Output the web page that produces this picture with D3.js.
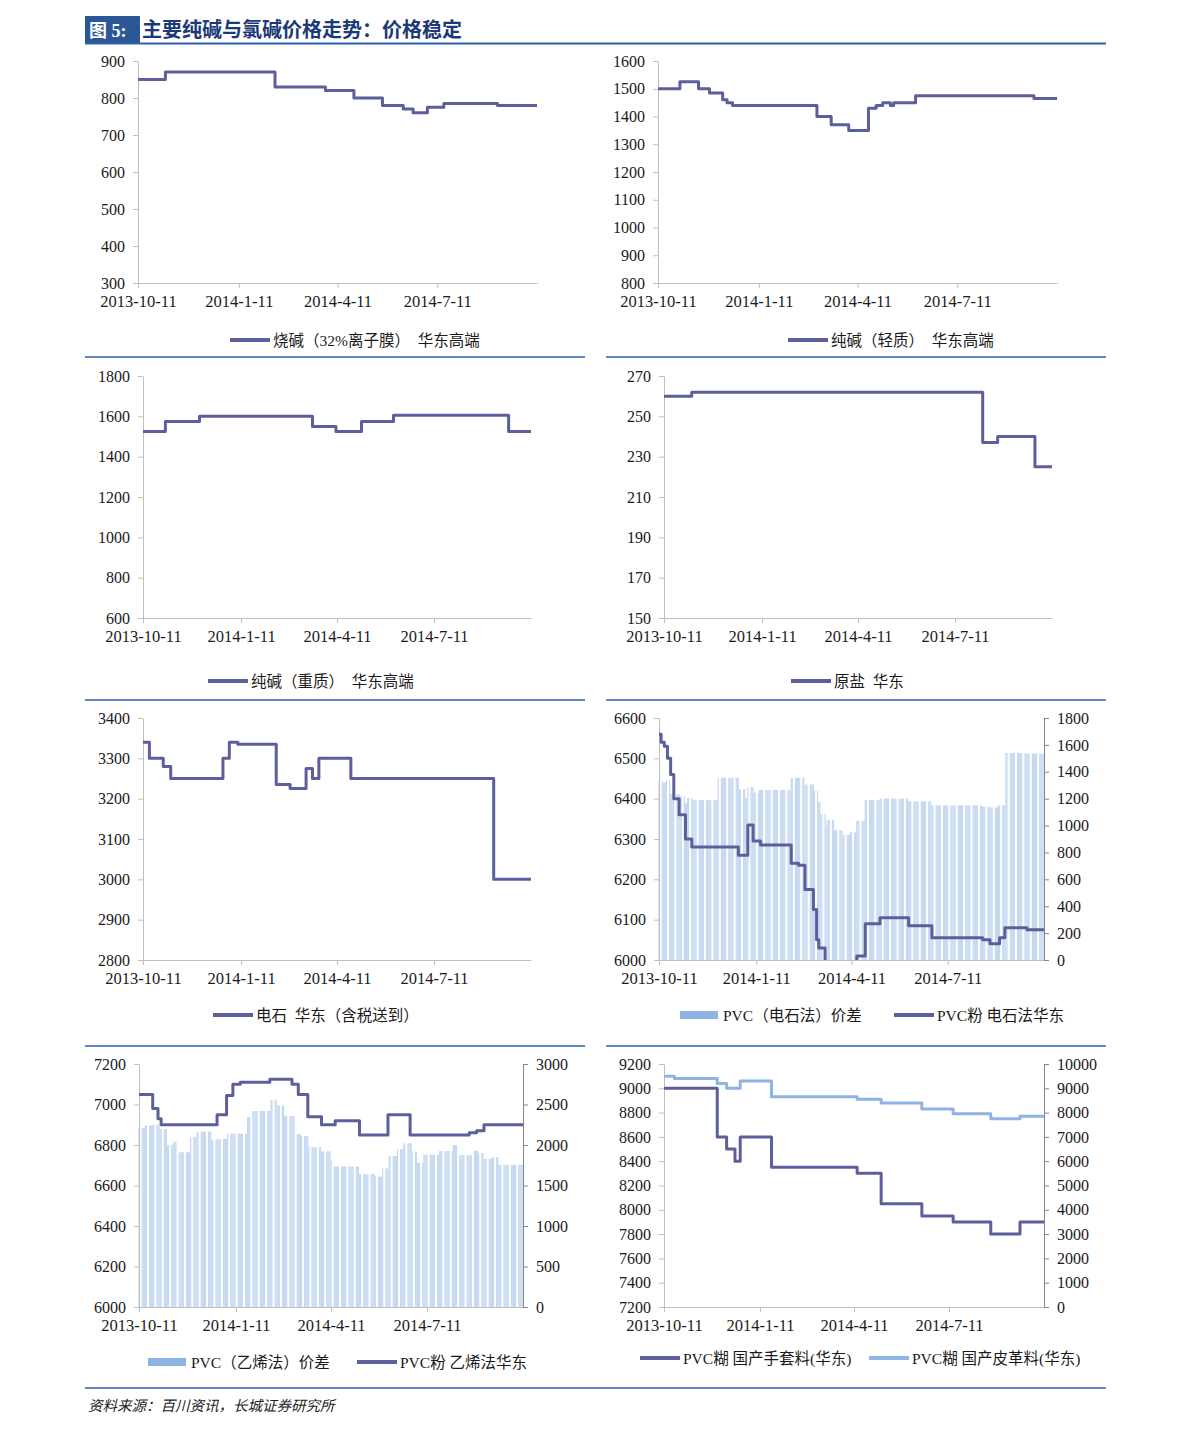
<!DOCTYPE html>
<html>
<head>
<meta charset="utf-8">
<script src="https://cdn.jsdelivr.net/npm/d3@7"></script>
<style>
	body { margin: 0; background: #fff; }
	text { font-family: "Liberation Serif", "Noto Sans CJK SC", serif; }
	.legend text { white-space: pre; }
</style>
</head>
<body>
<svg id="chart" width="1191" height="1434"></svg>
<script>
// ---- shared x axis ----
var xStart = "2013-10-11", xEnd = "2014-10-10";
var xTickLabels = ["2013-10-11", "2014-1-11", "2014-4-11", "2014-7-11"];

// ---- 烧碱（32%离子膜） 华东高端 ----
var causticDates = ["2013-10-11", "2013-11-5", "2014-2-13", "2014-3-31", "2014-4-26", "2014-5-22", "2014-6-10", "2014-6-19", "2014-7-2", "2014-7-17", "2014-9-4", "2014-10-10"];
var causticValues = [850, 870, 830, 820, 800, 780, 770, 760, 775, 785, 780, 780];
var causticTicks = [300, 400, 500, 600, 700, 800, 900];

// ---- 纯碱（轻质） 华东高端 ----
var lightAshDates = ["2013-10-11", "2013-10-31", "2013-11-17", "2013-11-27", "2013-12-9", "2013-12-13", "2013-12-18", "2014-3-5", "2014-3-18", "2014-4-3", "2014-4-21", "2014-4-28", "2014-5-4", "2014-5-11", "2014-5-14", "2014-6-3", "2014-9-19", "2014-10-10"];
var lightAshValues = [1500, 1525, 1500, 1485, 1460, 1450, 1440, 1400, 1370, 1350, 1430, 1440, 1450, 1440, 1450, 1475, 1465, 1465];
var lightAshTicks = [800, 900, 1000, 1100, 1200, 1300, 1400, 1500, 1600];

// ---- 纯碱（重质） 华东高端 ----
var denseAshDates = ["2013-10-11", "2013-11-1", "2013-12-3", "2014-3-19", "2014-4-10", "2014-5-4", "2014-6-3", "2014-9-19", "2014-10-10"];
var denseAshValues = [1525, 1575, 1600, 1550, 1525, 1575, 1605, 1525, 1525];
var denseAshTicks = [600, 800, 1000, 1200, 1400, 1600, 1800];

// ---- 原盐 华东 ----
var saltDates = ["2013-10-11", "2013-11-6", "2014-8-6", "2014-8-20", "2014-9-24", "2014-10-10"];
var saltValues = [260, 262, 237, 240, 225, 225];
var saltTicks = [150, 170, 190, 210, 230, 250, 270];

// ---- 电石 华东（含税送到） ----
var carbideDates = ["2013-10-11", "2013-10-17", "2013-10-30", "2013-11-6", "2013-12-25", "2013-12-31", "2014-1-8", "2014-2-13", "2014-2-26", "2014-3-13", "2014-3-19", "2014-3-25", "2014-4-24", "2014-9-5", "2014-10-10"];
var carbideValues = [3340, 3300, 3280, 3250, 3300, 3340, 3335, 3235, 3225, 3275, 3250, 3300, 3250, 3000, 3000];
var carbideTicks = [2800, 2900, 3000, 3100, 3200, 3300, 3400];

// ---- PVC 电石法 ----
var pvcCarbideDates = ["2013-10-11", "2013-10-13", "2013-10-16", "2013-10-19", "2013-10-22", "2013-10-25", "2013-10-30", "2013-11-5", "2013-11-11", "2013-12-25", "2014-1-3", "2014-1-8", "2014-1-15", "2014-2-13", "2014-2-20", "2014-2-26", "2014-3-6", "2014-3-9", "2014-3-11", "2014-3-17", "2014-4-16", "2014-4-24", "2014-5-8", "2014-6-4", "2014-6-26", "2014-8-13", "2014-8-20", "2014-8-29", "2014-9-3", "2014-9-24", "2014-10-10"];
var pvcCarbideValues = [6560, 6540, 6530, 6500, 6460, 6400, 6360, 6300, 6280, 6260, 6335, 6295, 6285, 6240, 6235, 6175, 6125, 6050, 6030, 5950, 6010, 6090, 6105, 6085, 6055, 6050, 6040, 6055, 6080, 6075, 6075];
var carbideSpreadDates = ["2013-10-11", "2013-10-15", "2013-10-18", "2013-10-22", "2013-10-31", "2013-11-5", "2013-11-7", "2013-11-12", "2013-12-6", "2013-12-26", "2014-1-1", "2014-1-3", "2014-1-9", "2014-1-14", "2014-2-13", "2014-2-26", "2014-3-7", "2014-3-11", "2014-3-13", "2014-3-18", "2014-3-19", "2014-3-26", "2014-4-3", "2014-4-10", "2014-4-16", "2014-4-24", "2014-5-8", "2014-6-4", "2014-6-26", "2014-8-13", "2014-8-20", "2014-8-28", "2014-9-4", "2014-9-24"];
var carbideSpreadValues = [1330, 1320, 1340, 1235, 1220, 1165, 1205, 1190, 1355, 1270, 1205, 1285, 1245, 1265, 1355, 1305, 1260, 1175, 1085, 995, 1040, 965, 930, 950, 1035, 1190, 1200, 1180, 1150, 1140, 1135, 1150, 1540, 1535];
var pvcCarbideTicks = [6000, 6100, 6200, 6300, 6400, 6500, 6600];
var carbideSpreadTicks = [0, 200, 400, 600, 800, 1000, 1200, 1400, 1600, 1800];

// ---- PVC 乙烯法 ----
var pvcEthyleneDates = ["2013-10-11", "2013-10-24", "2013-10-29", "2013-11-1", "2013-12-24", "2014-1-2", "2014-1-8", "2014-1-15", "2014-2-12", "2014-3-5", "2014-3-11", "2014-3-20", "2014-4-2", "2014-4-15", "2014-5-8", "2014-6-4", "2014-6-25", "2014-8-20", "2014-8-27", "2014-9-3", "2014-10-10"];
var pvcEthyleneValues = [7050, 6980, 6930, 6900, 6950, 7045, 7100, 7110, 7125, 7100, 7050, 6940, 6900, 6920, 6850, 6950, 6850, 6860, 6870, 6900, 6900];
var ethyleneSpreadDates = ["2013-10-11", "2013-10-17", "2013-10-24", "2013-10-31", "2013-11-7", "2013-11-13", "2013-11-18", "2013-11-29", "2013-12-5", "2013-12-19", "2013-12-24", "2014-1-3", "2014-1-22", "2014-1-27", "2014-2-13", "2014-2-19", "2014-2-26", "2014-3-8", "2014-3-14", "2014-3-21", "2014-4-2", "2014-4-11", "2014-4-14", "2014-5-8", "2014-5-23", "2014-5-30", "2014-6-5", "2014-6-13", "2014-6-19", "2014-6-27", "2014-7-2", "2014-7-8", "2014-7-23", "2014-8-5", "2014-8-10", "2014-8-25", "2014-8-29", "2014-9-3", "2014-9-11", "2014-9-17"];
var ethyleneSpreadValues = [2210, 2240, 2250, 2195, 2000, 2040, 1910, 2100, 2165, 2065, 2075, 2140, 2345, 2420, 2560, 2490, 2360, 2135, 2110, 1975, 1920, 1815, 1735, 1640, 1610, 1710, 1865, 1950, 2020, 1920, 1780, 1880, 1925, 2000, 1875, 1930, 1900, 1830, 1850, 1755];
var pvcEthyleneTicks = [6000, 6200, 6400, 6600, 6800, 7000, 7200];
var ethyleneSpreadTicks = [0, 500, 1000, 1500, 2000, 2500, 3000];

// ---- PVC糊 ----
var pasteGloveDates = ["2013-10-11", "2013-12-1", "2013-12-10", "2013-12-18", "2013-12-23", "2014-1-22", "2014-4-14", "2014-5-7", "2014-6-15", "2014-7-15", "2014-8-20", "2014-9-17", "2014-10-10"];
var pasteGloveValues = [9000, 8600, 8500, 8400, 8600, 8350, 8300, 8050, 7950, 7900, 7800, 7900, 7900];
var pasteLeatherDates = ["2013-10-11", "2013-10-21", "2013-12-1", "2013-12-10", "2013-12-23", "2014-1-22", "2014-4-14", "2014-5-7", "2014-6-15", "2014-7-15", "2014-8-20", "2014-9-17", "2014-10-10"];
var pasteLeatherValues = [9500, 9400, 9200, 9000, 9300, 8650, 8550, 8400, 8150, 7950, 7750, 7850, 7850];
var pasteGloveTicks = [7200, 7400, 7600, 7800, 8000, 8200, 8400, 8600, 8800, 9000, 9200];
var pasteLeatherTicks = [0, 1000, 2000, 3000, 4000, 5000, 6000, 7000, 8000, 9000, 10000];

// colours
var lineColor = "#5c5f9b", lightLineColor = "#8db4e3";
var barColor = "#c6d9f1", barLegendColor = "#8eb4e3";
var ruleColor = "#2e62a8";

function parseDay(s) {
	var p = s.split("-").map(Number);
	return new Date(p[0], p[1] - 1, p[2]);
}

function series(dates, values) {
	return dates.map(function (d, i) { return { date: parseDay(d), value: values[i] }; });
}

// one bar per weekday, holding the price spread of the period it falls in
function weekdayBars(dates, values) {
	var pts = dates.map(parseDay);
	var days = d3.timeDay.range(parseDay(xStart), d3.timeDay.offset(parseDay(xEnd), 1))
		.filter(function (d) { return d.getDay() !== 0 && d.getDay() !== 6; });
	return days.map(function (day) {
		return { date: day, value: values[Math.max(0, d3.bisectRight(pts, day) - 1)] };
	});
}

var svg = d3.select("#chart");
svg.append("rect").attr("width", 1191).attr("height", 1434).attr("fill", "#fff");

var panels = [
	{ x0: 138, x1: 537, y0: 61, y1: 283, yTicks: causticTicks,
		lines: [{ data: series(causticDates, causticValues), color: lineColor }],
		legendY: 340, legend: [{ type: "line", x: 230, label: "烧碱（32%离子膜）  华东高端", color: lineColor }] },
	{ x0: 658, x1: 1057, y0: 61, y1: 283, yTicks: lightAshTicks,
		lines: [{ data: series(lightAshDates, lightAshValues), color: lineColor }],
		legendY: 340, legend: [{ type: "line", x: 788, label: "纯碱（轻质）  华东高端", color: lineColor }] },
	{ x0: 143, x1: 531, y0: 376, y1: 618, yTicks: denseAshTicks,
		lines: [{ data: series(denseAshDates, denseAshValues), color: lineColor }],
		legendY: 681, legend: [{ type: "line", x: 208, label: "纯碱（重质）  华东高端", color: lineColor }] },
	{ x0: 664, x1: 1052, y0: 376, y1: 618, yTicks: saltTicks,
		lines: [{ data: series(saltDates, saltValues), color: lineColor }],
		legendY: 681, legend: [{ type: "line", x: 791, label: "原盐  华东", color: lineColor }] },
	{ x0: 143, x1: 531, y0: 718, y1: 960, yTicks: carbideTicks,
		lines: [{ data: series(carbideDates, carbideValues), color: lineColor }],
		legendY: 1015, legend: [{ type: "line", x: 213, label: "电石  华东（含税送到）", color: lineColor }] },
	{ x0: 659, x1: 1044, y0: 718, y1: 960, yTicks: pvcCarbideTicks, y2Ticks: carbideSpreadTicks,
		bars: weekdayBars(carbideSpreadDates, carbideSpreadValues),
		lines: [{ data: series(pvcCarbideDates, pvcCarbideValues), color: lineColor }],
		legendY: 1015, legend: [
			{ type: "rect", x: 680, label: "PVC（电石法）价差", color: barLegendColor },
			{ type: "line", x: 894, label: "PVC粉 电石法华东", color: lineColor }] },
	{ x0: 139, x1: 523, y0: 1064, y1: 1307, yTicks: pvcEthyleneTicks, y2Ticks: ethyleneSpreadTicks,
		bars: weekdayBars(ethyleneSpreadDates, ethyleneSpreadValues),
		lines: [{ data: series(pvcEthyleneDates, pvcEthyleneValues), color: lineColor }],
		legendY: 1362, legend: [
			{ type: "rect", x: 148, label: "PVC（乙烯法）价差", color: barLegendColor },
			{ type: "line", x: 357, label: "PVC粉 乙烯法华东", color: lineColor }] },
	{ x0: 664, x1: 1044, y0: 1064, y1: 1307, yTicks: pasteGloveTicks, y2Ticks: pasteLeatherTicks,
		lines: [
			{ data: series(pasteGloveDates, pasteGloveValues), color: lineColor },
			{ data: series(pasteLeatherDates, pasteLeatherValues), color: lightLineColor, right: true }],
		legendY: 1358, legend: [
			{ type: "line", x: 640, label: "PVC糊 国产手套料(华东)", color: lineColor },
			{ type: "line", x: 869, label: "PVC糊 国产皮革料(华东)", color: lightLineColor }] }
];

function styleAxis(g, color, size) {
	g.select(".domain").attr("stroke", color).attr("stroke-width", 1);
	g.selectAll(".tick line").attr("stroke", color);
	g.selectAll(".tick text").attr("fill", "#1a1a1a").style("font-size", size)
		.style("font-family", "'Liberation Serif', serif");
}

panels.forEach(function (p, idx) {
	var x = d3.scaleTime().domain([parseDay(xStart), parseDay(xEnd)]).range([p.x0, p.x1]);
	var y = d3.scaleLinear().domain(d3.extent(p.yTicks)).range([p.y1, p.y0]);
	var y2 = p.y2Ticks ? d3.scaleLinear().domain(d3.extent(p.y2Ticks)).range([p.y1, p.y0]) : null;
	var g = svg.append("g");

	// clip lines that run below the axis minimum
	var clipId = "clip" + idx;
	svg.append("clipPath").attr("id", clipId).append("rect")
		.attr("x", p.x0 - 2).attr("y", p.y0 - 5)
		.attr("width", p.x1 - p.x0 + 5).attr("height", p.y1 - p.y0 + 5);

	// price spread bars on the secondary axis
	if (p.bars) {
		g.append("g").selectAll("rect").data(p.bars).enter().append("rect")
			.attr("x", function (d) { return x(d.date) - 0.6; })
			.attr("width", 1.2)
			.attr("y", function (d) { return y2(d.value); })
			.attr("height", function (d) { return p.y1 - y2(d.value); })
			.attr("fill", barColor);
	}

	// axes
	var yAxis = g.append("g").attr("transform", "translate(" + p.x0 + ",0)")
		.call(d3.axisLeft(y).tickValues(p.yTicks).tickSize(5).tickSizeOuter(0).tickPadding(8).tickFormat(d3.format("d")));
	styleAxis(yAxis, "#bfbfbf", "16px");

	var xTickDates = xTickLabels.map(parseDay);
	var xAxis = g.append("g").attr("transform", "translate(0," + p.y1 + ")")
		.call(d3.axisBottom(x).tickValues(xTickDates).tickSize(5).tickSizeOuter(0).tickPadding(7)
			.tickFormat(function (d, i) { return xTickLabels[i]; }));
	styleAxis(xAxis, "#bfbfbf", "16.5px");

	if (y2) {
		var y2Axis = g.append("g").attr("transform", "translate(" + p.x1 + ",0)")
			.call(d3.axisRight(y2).tickValues(p.y2Ticks).tickSize(5).tickSizeOuter(0).tickPadding(8).tickFormat(d3.format("d")));
		styleAxis(y2Axis, "#868686", "16px");
	}

	// step lines
	p.lines.forEach(function (s) {
		var scale = s.right ? y2 : y;
		var line = d3.line()
			.x(function (d) { return x(d.date); })
			.y(function (d) { return scale(d.value); })
			.curve(d3.curveStepAfter);
		g.append("path")
			.datum(s.data)
			.attr("clip-path", "url(#" + clipId + ")")
			.attr("d", line)
			.attr("fill", "none")
			.attr("stroke", s.color)
			.attr("stroke-width", 3)
			.attr("stroke-linejoin", "round");
	});

	// legend
	var lg = g.append("g").attr("class", "legend");
	p.legend.forEach(function (item) {
		if (item.type === "line") {
			lg.append("line").attr("x1", item.x).attr("x2", item.x + 40)
				.attr("y1", p.legendY).attr("y2", p.legendY)
				.attr("stroke", item.color).attr("stroke-width", 4);
		} else {
			lg.append("rect").attr("x", item.x).attr("y", p.legendY - 4)
				.attr("width", 38).attr("height", 8).attr("fill", item.color);
		}
		lg.append("text").attr("x", item.x + 43).attr("y", p.legendY + 5.5)
			.attr("fill", "#1a1a1a").style("font-size", "15.5px").text(item.label);
	});
});

// row separators
var rules = [
	[85, 585, 357], [606, 1106, 357],
	[85, 585, 700], [606, 1106, 700],
	[85, 585, 1046], [606, 1106, 1046],
	[85, 1106, 1388]
];
svg.selectAll(".rule").data(rules).enter().append("line")
	.attr("x1", function (d) { return d[0]; }).attr("x2", function (d) { return d[1]; })
	.attr("y1", function (d) { return d[2]; }).attr("y2", function (d) { return d[2]; })
	.attr("stroke", ruleColor).attr("stroke-width", 1.6);

// title
svg.append("rect").attr("x", 85).attr("y", 16).attr("width", 55).attr("height", 28).attr("fill", "#2b5797");
svg.append("line").attr("x1", 85).attr("x2", 1106).attr("y1", 43.5).attr("y2", 43.5)
	.attr("stroke", ruleColor).attr("stroke-width", 2);
svg.append("text").attr("x", 89).attr("y", 37).attr("fill", "#fff")
	.style("font-size", "18px").style("font-weight", "bold").text("图 5:");
svg.append("text").attr("x", 142).attr("y", 37).attr("fill", "#1c3a78")
	.style("font-size", "20px").style("font-weight", "bold")
	.style("font-family", "'Noto Sans CJK SC', sans-serif")
	.text("主要纯碱与氯碱价格走势：价格稳定");

// source
svg.append("text").attr("x", 88).attr("y", 1411).attr("fill", "#222")
	.style("font-size", "14.5px").style("font-style", "italic")
	.style("font-family", "'Noto Sans CJK SC', sans-serif")
	.text("资料来源：百川资讯，长城证券研究所");
</script>
</body>
</html>
